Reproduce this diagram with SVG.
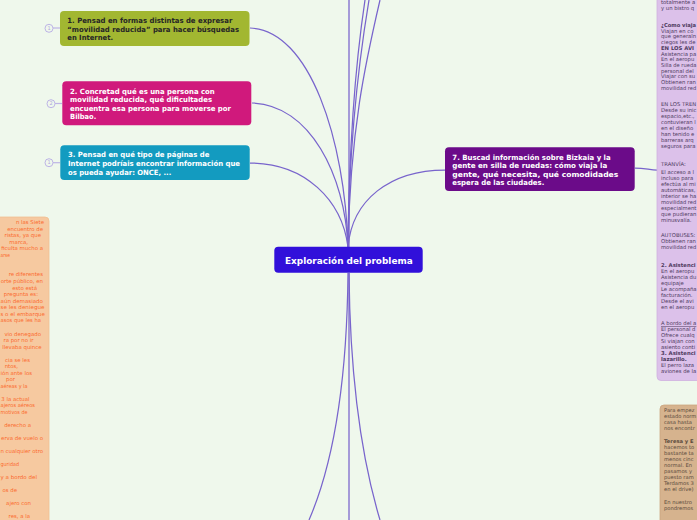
<svg xmlns="http://www.w3.org/2000/svg" width="697" height="520" viewBox="0 0 697 520">
<style>
.bg{fill:#eff8ec}
.conn{fill:none;stroke:#7864cc;stroke-width:1.25}
.badge-line{stroke:#bdb4e6;stroke-width:1.2}
.badge circle{fill:#eff8ec;stroke:#bdb4e6;stroke-width:1}
.badge text{font-family:"DejaVu Sans","Liberation Sans",sans-serif;font-size:5px;fill:#b0a8dc;text-anchor:middle}
.nt{font-family:"DejaVu Sans","Liberation Sans",sans-serif;font-size:7.2px;font-weight:bold}
.ct{font-family:"DejaVu Sans","Liberation Sans",sans-serif;font-size:9.5px;font-weight:bold;fill:#ffffff}
.lp{font-family:"DejaVu Sans","Liberation Sans",sans-serif;font-size:5.4px;fill:#fb6a2e;text-anchor:end}
.rp{font-family:"DejaVu Sans","Liberation Sans",sans-serif;font-size:5.3px;fill:#4e3a5e}
.bp{font-family:"DejaVu Sans","Liberation Sans",sans-serif;font-size:5.2px;fill:#5a4a3c}
.b{font-weight:bold}
</style>
<rect class="bg" x="0" y="0" width="697" height="520"/>

<g id="connectors">
  <path class="conn" d="M250,28 C310,30 345,140 348,247"/>
  <path class="conn" d="M252,103 C310,105 345,175 348,247"/>
  <path class="conn" d="M250,163 C305,163 342,200 348,247"/>
  <path class="conn" d="M348,247 C352,200 390,170 445,170"/>
  <path class="conn" d="M349,247 L349,0"/>
  <path class="conn" d="M348,247 C349,150 356,60 365,0"/>
  <path class="conn" d="M348,247 C349,140 359,60 369,0"/>
  <path class="conn" d="M348,247 C350,130 366,60 380,0"/>
  <path class="conn" d="M349,273 L349,520"/>
  <path class="conn" d="M348,273 C347,380 335,460 309,520"/>
  <path class="conn" d="M349,273 C350,380 362,460 380,520"/>
  <path class="conn" d="M635,168 C645,168 650,170 657,170"/>
</g>

<g id="left-panel">
  <rect x="-10" y="217" width="59" height="320" rx="4" fill="#f6c9a0" stroke="#f1bf92" stroke-width="0.8"/>
  <text class="lp" x="44" y="224">n las Siete</text>
  <text class="lp" x="43" y="231">encuentro de</text>
  <text class="lp" x="41" y="237">ristas, ya que</text>
  <text class="lp" x="28" y="244">marca,</text>
  <text class="lp" x="43" y="250">ficulta mucho a</text>
  <text class="lp" x="10" y="257" textLength="9.5" lengthAdjust="spacingAndGlyphs">arse</text>
  <text class="lp" x="43" y="276">re diferentes</text>
  <text class="lp" x="43" y="283">orte público, en</text>
  <text class="lp" x="37" y="290">esto está</text>
  <text class="lp" x="38" y="296">pregunta es:</text>
  <text class="lp" x="43" y="303" textLength="42.5" lengthAdjust="spacingAndGlyphs">aún demasiado</text>
  <text class="lp" x="44.5" y="309" textLength="44" lengthAdjust="spacingAndGlyphs">se les deniegue</text>
  <text class="lp" x="45" y="316" textLength="44.5" lengthAdjust="spacingAndGlyphs">s o el embarque</text>
  <text class="lp" x="41" y="322" textLength="40.5" lengthAdjust="spacingAndGlyphs">asos que les ha</text>
  <text class="lp" x="41" y="336">vio denegado</text>
  <text class="lp" x="33.5" y="342">ra por no ir</text>
  <text class="lp" x="41.5" y="349">llevaba quince</text>
  <text class="lp" x="30" y="362">cia se les</text>
  <text class="lp" x="18" y="368">ntos,</text>
  <text class="lp" x="32" y="375">ión ante los</text>
  <text class="lp" x="15" y="381">por</text>
  <text class="lp" x="27.5" y="388" textLength="27" lengthAdjust="spacingAndGlyphs">aéreas y la</text>
  <text class="lp" x="29.5" y="401">3 la actual</text>
  <text class="lp" x="35" y="407" textLength="34.5" lengthAdjust="spacingAndGlyphs">ajeros aéreos</text>
  <text class="lp" x="27.5" y="414" textLength="27" lengthAdjust="spacingAndGlyphs">motivos de</text>
  <text class="lp" x="31" y="427">derecho a</text>
  <text class="lp" x="43" y="440">erva de vuelo o</text>
  <text class="lp" x="43" y="453" textLength="42.5" lengthAdjust="spacingAndGlyphs">n cualquier otro</text>
  <text class="lp" x="19" y="466" textLength="18.5" lengthAdjust="spacingAndGlyphs">guridad</text>
  <text class="lp" x="37" y="479" textLength="36.5" lengthAdjust="spacingAndGlyphs">y a bordo del</text>
  <text class="lp" x="17" y="492">os de</text>
  <text class="lp" x="31" y="505">ajero con</text>
  <text class="lp" x="30" y="518">res, a la</text>
</g>

<g id="node-1">
  <line class="badge-line" x1="53" y1="28" x2="60" y2="28"/>
  <g class="badge"><circle cx="49" cy="28.3" r="4"/><text x="49" y="30">1</text></g>
  <rect x="60" y="11" width="189.5" height="35" rx="4" fill="#a2b731"/>
  <text class="nt" fill="#262626" x="67.3" y="23.2" textLength="165" lengthAdjust="spacingAndGlyphs">1. Pensad en formas distintas de expresar</text>
  <text class="nt" fill="#262626" x="67.3" y="31.6" textLength="171.7" lengthAdjust="spacingAndGlyphs">“movilidad reducida” para hacer búsquedas</text>
  <text class="nt" fill="#262626" x="67.3" y="40.2" textLength="45.7" lengthAdjust="spacingAndGlyphs">en Internet.</text>
</g>

<g id="node-2">
  <line class="badge-line" x1="55" y1="103.5" x2="62" y2="103.5"/>
  <g class="badge"><circle cx="51" cy="103.7" r="4"/><text x="51" y="105.4">2</text></g>
  <rect x="62.3" y="81.3" width="189" height="44" rx="4" fill="#d0197c"/>
  <text class="nt" fill="#ffffff" x="70" y="93.8" textLength="144.7" lengthAdjust="spacingAndGlyphs">2. Concretad qué es una persona con</text>
  <text class="nt" fill="#ffffff" x="70" y="102.3" textLength="142" lengthAdjust="spacingAndGlyphs">movilidad reducida, qué dificultades</text>
  <text class="nt" fill="#ffffff" x="70" y="111" textLength="161" lengthAdjust="spacingAndGlyphs">encuentra esa persona para moverse por</text>
  <text class="nt" fill="#ffffff" x="70" y="119.3" textLength="26.3" lengthAdjust="spacingAndGlyphs">Bilbao.</text>
</g>

<g id="node-3">
  <line class="badge-line" x1="53" y1="162.7" x2="60" y2="162.7"/>
  <g class="badge"><circle cx="49" cy="162.7" r="4"/><text x="49" y="164.4">1</text></g>
  <rect x="60.3" y="145.3" width="189.4" height="34.7" rx="4" fill="#139bc0"/>
  <text class="nt" fill="#ffffff" x="68" y="157.2" textLength="141.3" lengthAdjust="spacingAndGlyphs">3. Pensad en qué tipo de páginas de</text>
  <text class="nt" fill="#ffffff" x="68" y="165.8" textLength="172" lengthAdjust="spacingAndGlyphs">Internet podríais encontrar información que</text>
  <text class="nt" fill="#ffffff" x="68" y="174.5" textLength="103.3" lengthAdjust="spacingAndGlyphs">os pueda ayudar: ONCE, ...</text>
</g>

<g id="node-center">
  <rect x="274.3" y="246.7" width="148.4" height="26" rx="4" fill="#3110da"/>
  <text class="ct" x="285" y="264.3" textLength="127.7" lengthAdjust="spacingAndGlyphs">Exploración del problema</text>
</g>

<g id="node-7">
  <rect x="445" y="147.3" width="189.7" height="43.7" rx="4" fill="#6b0b89"/>
  <text class="nt" fill="#ffffff" x="452.3" y="159.8" textLength="158.4" lengthAdjust="spacingAndGlyphs">7. Buscad información sobre Bizkaia y la</text>
  <text class="nt" fill="#ffffff" x="452.3" y="168.2" textLength="155" lengthAdjust="spacingAndGlyphs">gente en silla de ruedas: cómo viaja la</text>
  <text class="nt" fill="#ffffff" x="452.3" y="176.8" textLength="166" lengthAdjust="spacingAndGlyphs">gente, qué necesita, qué comodidades</text>
  <text class="nt" fill="#ffffff" x="452.3" y="185.2" textLength="92" lengthAdjust="spacingAndGlyphs">espera de las ciudades.</text>
</g>

<g id="right-panel">
  <rect x="657" y="-20" width="60" height="400.5" rx="4" fill="#dcc1ea" stroke="#cfb0df" stroke-width="0.8"/>
  <text class="rp" x="661" y="4">totalmente a</text>
  <text class="rp" x="661" y="9.6">y un bistro q</text>
  <text class="rp b" x="661" y="27" textLength="35" lengthAdjust="spacingAndGlyphs">¿Como viaja</text>
  <text class="rp" x="661" y="32.7">Viajan en co</text>
  <text class="rp" x="661" y="38.4">que generaln</text>
  <text class="rp" x="661" y="44.1">ciegos les de</text>
  <text class="rp b" x="661" y="49.8">EN LOS AVI</text>
  <text class="rp" x="661" y="55.5">Asistencia pa</text>
  <text class="rp" x="661" y="61.2">En el aeropu</text>
  <text class="rp" x="661" y="66.9" textLength="35.3" lengthAdjust="spacingAndGlyphs">Silla de rueda</text>
  <text class="rp" x="661" y="72.6">personal del</text>
  <text class="rp" x="661" y="78.3">Viajar con su</text>
  <text class="rp" x="661" y="84">Obtienen ran</text>
  <text class="rp" x="661" y="89.7" textLength="35.3" lengthAdjust="spacingAndGlyphs">movilidad red</text>
  <text class="rp" x="661" y="106">EN LOS TREN</text>
  <text class="rp" x="661" y="112">Desde su inic</text>
  <text class="rp" x="661" y="118">espacio,etc.,</text>
  <text class="rp" x="661" y="124">contuvieran l</text>
  <text class="rp" x="661" y="130">en el diseño</text>
  <text class="rp" x="661" y="136">han tenido e</text>
  <text class="rp" x="661" y="142">barreras arq</text>
  <text class="rp" x="661" y="148">seguros para</text>
  <text class="rp" x="661" y="165.5">TRANVÍA:</text>
  <text class="rp" x="661" y="174">El acceso a l</text>
  <text class="rp" x="661" y="180">incluso para</text>
  <text class="rp" x="661" y="186">efectúa al mi</text>
  <text class="rp" x="661" y="192">automáticas,</text>
  <text class="rp" x="661" y="198" textLength="35.3" lengthAdjust="spacingAndGlyphs">interior se ha</text>
  <text class="rp" x="661" y="204" textLength="35.3" lengthAdjust="spacingAndGlyphs">movilidad red</text>
  <text class="rp" x="661" y="210" textLength="35.3" lengthAdjust="spacingAndGlyphs">especialment</text>
  <text class="rp" x="661" y="215.5">que pudieran</text>
  <text class="rp" x="661" y="221.5">minusvalía.</text>
  <text class="rp" x="661" y="237">AUTOBUSES:</text>
  <text class="rp" x="661" y="242.5">Obtienen ran</text>
  <text class="rp" x="661" y="248.5" textLength="35.3" lengthAdjust="spacingAndGlyphs">movilidad red</text>
  <text class="rp b" x="661" y="267">2. Asistenci</text>
  <text class="rp" x="661" y="273">En el aeropu</text>
  <text class="rp" x="661" y="279">Asistencia du</text>
  <text class="rp" x="661" y="284.5">equipaje</text>
  <text class="rp" x="661" y="290.5">Le acompaña</text>
  <text class="rp" x="661" y="296.5">facturación.</text>
  <text class="rp" x="661" y="302.5">Desde el avi</text>
  <text class="rp" x="661" y="308.5">en el aeropu</text>
  <text class="rp" x="661" y="325" text-decoration="underline">A bordo del a</text>
  <text class="rp" x="661" y="331">El personal d</text>
  <text class="rp" x="661" y="337">Ofrece cualq</text>
  <text class="rp" x="661" y="343">Si viajan con</text>
  <text class="rp" x="661" y="349">asiento conti</text>
  <text class="rp b" x="661" y="355">3. Asistenci</text>
  <text class="rp b" x="661" y="361">lazarillo.</text>
  <text class="rp" x="661" y="367">El perro laza</text>
  <text class="rp" x="661" y="373">aviones de la</text>
</g>

<g id="bottom-right-panel">
  <rect x="660" y="405" width="60" height="130" rx="4" fill="#d6b38e" stroke="#cba680" stroke-width="0.8"/>
  <text class="bp" x="664" y="412">Para empez</text>
  <text class="bp" x="664" y="418" textLength="32.3" lengthAdjust="spacingAndGlyphs">estado norm</text>
  <text class="bp" x="664" y="424">casa hasta</text>
  <text class="bp" x="664" y="430">nos encontr</text>
  <text class="bp b" x="664" y="443">Teresa y E</text>
  <text class="bp" x="664" y="449">hacemos to</text>
  <text class="bp" x="664" y="455">bastante ta</text>
  <text class="bp" x="664" y="461">menos cinc</text>
  <text class="bp" x="664" y="467">normal. En</text>
  <text class="bp" x="664" y="473">pasamos y</text>
  <text class="bp" x="664" y="479">puesto ram</text>
  <text class="bp" x="664" y="485">Terdamos 3</text>
  <text class="bp" x="664" y="491">en el drive)</text>
  <text class="bp" x="664" y="504">En nuestro</text>
  <text class="bp" x="664" y="510">pondremos</text>
</g>
</svg>
